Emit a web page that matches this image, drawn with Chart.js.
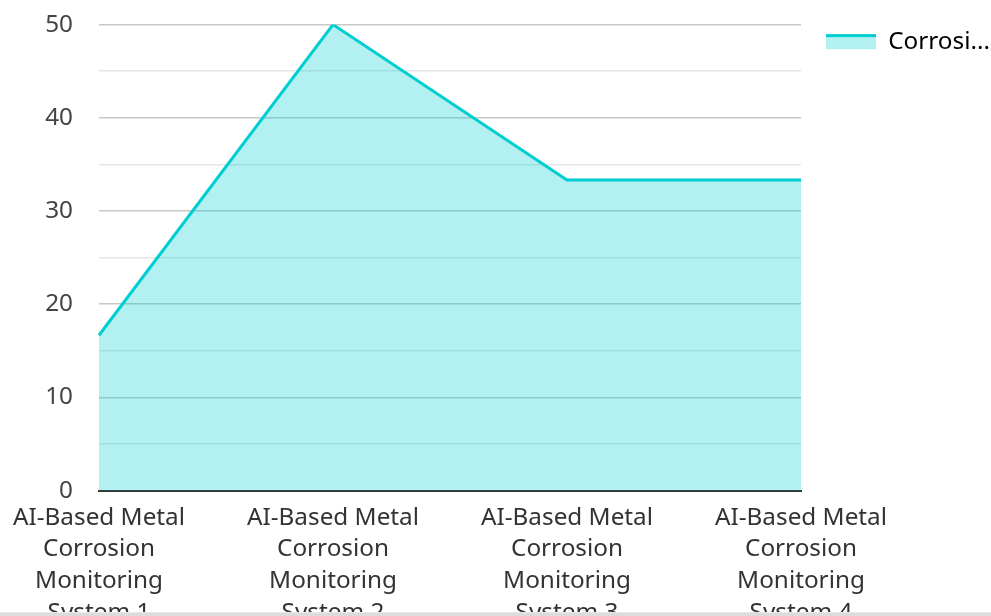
<!DOCTYPE html>
<html>
<head>
<meta charset="utf-8">
<script src="https://cdn.jsdelivr.net/npm/chart.js@4/dist/chart.umd.min.js"></script>
<style>
  html, body { margin: 0; padding: 0; background: #fff; overflow: hidden; }
  #wrap { position: relative; width: 991px; height: 632px; }
  #bar { position: fixed; left: 0; right: 0; bottom: 0; height: 3px; background: #dcdcdc; border-top: 1px solid #e8e8e8; }
</style>
</head>
<body>
<div id="wrap"><canvas id="c"></canvas></div>
<div id="bar"></div>
<script>
// Categories (multi-line axis labels)
const categories = [
  ['AI-Based Metal', 'Corrosion', 'Monitoring', 'System 1'],
  ['AI-Based Metal', 'Corrosion', 'Monitoring', 'System 2'],
  ['AI-Based Metal', 'Corrosion', 'Monitoring', 'System 3'],
  ['AI-Based Metal', 'Corrosion', 'Monitoring', 'System 4']
];
const seriesName = 'Corrosi...';
const seriesValues = [16.67, 50, 33.33, 33.33];
const yTicks = [0, 10, 20, 30, 40, 50];

const LINE = '#00CED1';
const AREA = 'rgba(0, 206, 209, 0.3)';
const FONT = { family: "'Noto Sans', 'Open Sans', sans-serif", size: 24.3 };
const LEGEND_BOX_H = 15;

// Legend swatch: light fill with a thick line along its top edge
const legendSwatch = {
  id: 'legendSwatch',
  afterDraw(chart) {
    const lg = chart.legend;
    if (!lg || !lg.legendHitBoxes || !lg.legendHitBoxes.length) return;
    const hb = lg.legendHitBoxes[0];
    const fs = lg.options.labels.font.size;
    const top = hb.top + Math.max((fs - LEGEND_BOX_H) / 2, 0);
    const ctx = chart.ctx;
    ctx.save();
    ctx.fillStyle = LINE;
    ctx.fillRect(hb.left, top, lg.options.labels.boxWidth, 3);
    ctx.restore();
  }
};

new Chart(document.getElementById('c'), {
  type: 'line',
  data: {
    labels: categories,
    datasets: [{
      label: seriesName,
      data: seriesValues,
      borderColor: LINE,
      backgroundColor: AREA,
      borderWidth: 3,
      fill: 'origin',
      tension: 0,
      pointRadius: 0,
      pointHoverRadius: 0
    }]
  },
  plugins: [legendSwatch],
  options: {
    responsive: true,
    maintainAspectRatio: false,
    animation: false,
    layout: { padding: { top: 4.5, right: 0, left: 0, bottom: 0 } },
    plugins: {
      tooltip: { enabled: false },
      legend: {
        position: 'right',
        align: 'start',
        maxWidth: 190,
        labels: {
          boxWidth: 50,
          boxHeight: LEGEND_BOX_H,
          color: '#333',
          font: FONT,
          padding: 25,
          generateLabels: (chart) => chart.data.datasets.map((ds, i) => ({
            text: ds.label,
            fillStyle: AREA,
            strokeStyle: AREA,
            lineWidth: 0,
            hidden: false,
            datasetIndex: i
          }))
        }
      }
    },
    scales: {
      x: {
        offset: false,
        grid: { display: false },
        border: { display: true, color: '#333', width: 2 },
        ticks: {
          color: '#333',
          font: { ...FONT, lineHeight: 1.31 },
          maxRotation: 0,
          autoSkip: false,
          padding: 3
        }
      },
      y: {
        min: 0,
        max: 50,
        afterFit: (scale) => { scale.width = 99; },
        border: { display: false },
        grid: {
          drawTicks: true,
          tickLength: 16,
          tickColor: 'rgba(0,0,0,0)',
          lineWidth: 1.5,
          color: (ctx) => (yTicks.includes(ctx.tick.value) ? '#c8c8c8' : '#e6e6e6')
        },
        ticks: {
          stepSize: 5,
          color: '#444',
          font: FONT,
          padding: 10,
          callback: (v) => (yTicks.includes(v) ? String(v) : '')
        }
      }
    }
  }
});
</script>
</body>
</html>
